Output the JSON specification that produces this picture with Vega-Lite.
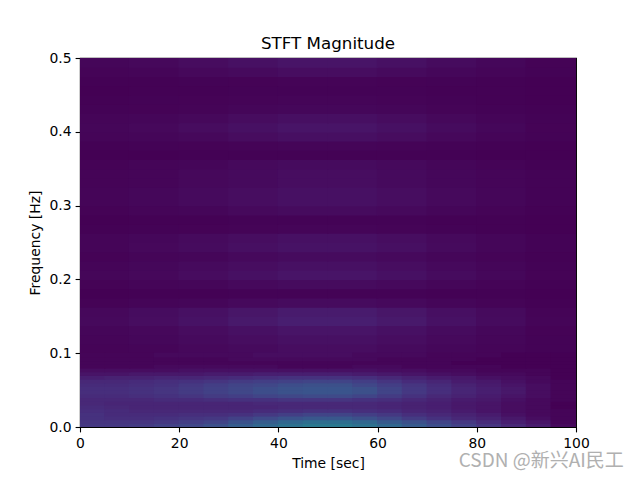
{
"$schema":"https://vega.github.io/schema/vega-lite/v6.json",
"width":496,"height":369,
"autosize":"none",
"padding":{"left":80,"top":58,"right":64,"bottom":53},
"background":"white",
"title":{"text":"STFT Magnitude","font":"DejaVu Sans","fontSize":16.7,"fontWeight":"normal","color":"#000","offset":-2},
"config":{"view":{"stroke":"#000","strokeWidth":1.1,"fill":"#450457"},"font":"DejaVu Sans"},
"datasets":{
"low":[
{"t":2.5,"f":0.0025,"m":0.16},{"t":7.5,"f":0.0025,"m":0.16},{"t":12.5,"f":0.0025,"m":0.17},{"t":17.5,"f":0.0025,"m":0.19},{"t":22.5,"f":0.0025,"m":0.21},{"t":27.5,"f":0.0025,"m":0.24},{"t":32.5,"f":0.0025,"m":0.29},{"t":37.5,"f":0.0025,"m":0.33},{"t":42.5,"f":0.0025,"m":0.37},{"t":47.5,"f":0.0025,"m":0.4},{"t":52.5,"f":0.0025,"m":0.4},{"t":57.5,"f":0.0025,"m":0.37},{"t":62.5,"f":0.0025,"m":0.33},{"t":67.5,"f":0.0025,"m":0.28},{"t":72.5,"f":0.0025,"m":0.23},{"t":77.5,"f":0.0025,"m":0.19},{"t":82.5,"f":0.0025,"m":0.15},{"t":87.5,"f":0.0025,"m":0.11},{"t":92.5,"f":0.0025,"m":0.07},{"t":97.5,"f":0.0025,"m":0.02},
{"t":2.5,"f":0.0075,"m":0.15},{"t":7.5,"f":0.0075,"m":0.15},{"t":12.5,"f":0.0075,"m":0.15},{"t":17.5,"f":0.0075,"m":0.16},{"t":22.5,"f":0.0075,"m":0.18},{"t":27.5,"f":0.0075,"m":0.2},{"t":32.5,"f":0.0075,"m":0.25},{"t":37.5,"f":0.0075,"m":0.29},{"t":42.5,"f":0.0075,"m":0.33},{"t":47.5,"f":0.0075,"m":0.36},{"t":52.5,"f":0.0075,"m":0.36},{"t":57.5,"f":0.0075,"m":0.33},{"t":62.5,"f":0.0075,"m":0.28},{"t":67.5,"f":0.0075,"m":0.24},{"t":72.5,"f":0.0075,"m":0.2},{"t":77.5,"f":0.0075,"m":0.16},{"t":82.5,"f":0.0075,"m":0.12},{"t":87.5,"f":0.0075,"m":0.08},{"t":92.5,"f":0.0075,"m":0.05},{"t":97.5,"f":0.0075,"m":0.01},
{"t":2.5,"f":0.0125,"m":0.14},{"t":7.5,"f":0.0125,"m":0.13},{"t":12.5,"f":0.0125,"m":0.13},{"t":17.5,"f":0.0125,"m":0.14},{"t":22.5,"f":0.0125,"m":0.15},{"t":27.5,"f":0.0125,"m":0.16},{"t":32.5,"f":0.0125,"m":0.19},{"t":37.5,"f":0.0125,"m":0.22},{"t":42.5,"f":0.0125,"m":0.25},{"t":47.5,"f":0.0125,"m":0.27},{"t":52.5,"f":0.0125,"m":0.27},{"t":57.5,"f":0.0125,"m":0.24},{"t":62.5,"f":0.0125,"m":0.21},{"t":67.5,"f":0.0125,"m":0.17},{"t":72.5,"f":0.0125,"m":0.14},{"t":77.5,"f":0.0125,"m":0.11},{"t":82.5,"f":0.0125,"m":0.09},{"t":87.5,"f":0.0125,"m":0.06},{"t":92.5,"f":0.0125,"m":0.03},{"t":97.5,"f":0.0125,"m":0.01},
{"t":2.5,"f":0.0175,"m":0.14},{"t":7.5,"f":0.0175,"m":0.12},{"t":12.5,"f":0.0175,"m":0.12},{"t":17.5,"f":0.0175,"m":0.12},{"t":22.5,"f":0.0175,"m":0.13},{"t":27.5,"f":0.0175,"m":0.13},{"t":32.5,"f":0.0175,"m":0.14},{"t":37.5,"f":0.0175,"m":0.16},{"t":42.5,"f":0.0175,"m":0.18},{"t":47.5,"f":0.0175,"m":0.2},{"t":52.5,"f":0.0175,"m":0.2},{"t":57.5,"f":0.0175,"m":0.18},{"t":62.5,"f":0.0175,"m":0.16},{"t":67.5,"f":0.0175,"m":0.13},{"t":72.5,"f":0.0175,"m":0.11},{"t":77.5,"f":0.0175,"m":0.09},{"t":82.5,"f":0.0175,"m":0.07},{"t":87.5,"f":0.0175,"m":0.04},{"t":92.5,"f":0.0175,"m":0.02},{"t":97.5,"f":0.0175,"m":0.01},
{"t":2.5,"f":0.0225,"m":0.13},{"t":7.5,"f":0.0225,"m":0.12},{"t":12.5,"f":0.0225,"m":0.11},{"t":17.5,"f":0.0225,"m":0.11},{"t":22.5,"f":0.0225,"m":0.11},{"t":27.5,"f":0.0225,"m":0.11},{"t":32.5,"f":0.0225,"m":0.11},{"t":37.5,"f":0.0225,"m":0.12},{"t":42.5,"f":0.0225,"m":0.13},{"t":47.5,"f":0.0225,"m":0.14},{"t":52.5,"f":0.0225,"m":0.14},{"t":57.5,"f":0.0225,"m":0.13},{"t":62.5,"f":0.0225,"m":0.12},{"t":67.5,"f":0.0225,"m":0.1},{"t":72.5,"f":0.0225,"m":0.09},{"t":77.5,"f":0.0225,"m":0.07},{"t":82.5,"f":0.0225,"m":0.05},{"t":87.5,"f":0.0225,"m":0.03},{"t":92.5,"f":0.0225,"m":0.02},{"t":97.5,"f":0.0225,"m":0.01},
{"t":2.5,"f":0.0275,"m":0.12},{"t":7.5,"f":0.0275,"m":0.11},{"t":12.5,"f":0.0275,"m":0.1},{"t":17.5,"f":0.0275,"m":0.1},{"t":22.5,"f":0.0275,"m":0.1},{"t":27.5,"f":0.0275,"m":0.1},{"t":32.5,"f":0.0275,"m":0.1},{"t":37.5,"f":0.0275,"m":0.1},{"t":42.5,"f":0.0275,"m":0.11},{"t":47.5,"f":0.0275,"m":0.11},{"t":52.5,"f":0.0275,"m":0.11},{"t":57.5,"f":0.0275,"m":0.11},{"t":62.5,"f":0.0275,"m":0.1},{"t":67.5,"f":0.0275,"m":0.09},{"t":72.5,"f":0.0275,"m":0.08},{"t":77.5,"f":0.0275,"m":0.06},{"t":82.5,"f":0.0275,"m":0.05},{"t":87.5,"f":0.0275,"m":0.03},{"t":92.5,"f":0.0275,"m":0.02},{"t":97.5,"f":0.0275,"m":0},
{"t":2.5,"f":0.0325,"m":0.11},{"t":7.5,"f":0.0325,"m":0.1},{"t":12.5,"f":0.0325,"m":0.1},{"t":17.5,"f":0.0325,"m":0.1},{"t":22.5,"f":0.0325,"m":0.1},{"t":27.5,"f":0.0325,"m":0.1},{"t":32.5,"f":0.0325,"m":0.1},{"t":37.5,"f":0.0325,"m":0.11},{"t":42.5,"f":0.0325,"m":0.11},{"t":47.5,"f":0.0325,"m":0.11},{"t":52.5,"f":0.0325,"m":0.11},{"t":57.5,"f":0.0325,"m":0.11},{"t":62.5,"f":0.0325,"m":0.1},{"t":67.5,"f":0.0325,"m":0.09},{"t":72.5,"f":0.0325,"m":0.08},{"t":77.5,"f":0.0325,"m":0.06},{"t":82.5,"f":0.0325,"m":0.05},{"t":87.5,"f":0.0325,"m":0.03},{"t":92.5,"f":0.0325,"m":0.02},{"t":97.5,"f":0.0325,"m":0},
{"t":2.5,"f":0.0375,"m":0.11},{"t":7.5,"f":0.0375,"m":0.11},{"t":12.5,"f":0.0375,"m":0.11},{"t":17.5,"f":0.0375,"m":0.12},{"t":22.5,"f":0.0375,"m":0.12},{"t":27.5,"f":0.0375,"m":0.13},{"t":32.5,"f":0.0375,"m":0.14},{"t":37.5,"f":0.0375,"m":0.14},{"t":42.5,"f":0.0375,"m":0.15},{"t":47.5,"f":0.0375,"m":0.15},{"t":52.5,"f":0.0375,"m":0.15},{"t":57.5,"f":0.0375,"m":0.14},{"t":62.5,"f":0.0375,"m":0.13},{"t":67.5,"f":0.0375,"m":0.11},{"t":72.5,"f":0.0375,"m":0.09},{"t":77.5,"f":0.0375,"m":0.07},{"t":82.5,"f":0.0375,"m":0.06},{"t":87.5,"f":0.0375,"m":0.04},{"t":92.5,"f":0.0375,"m":0.02},{"t":97.5,"f":0.0375,"m":0.01},
{"t":2.5,"f":0.0425,"m":0.12},{"t":7.5,"f":0.0425,"m":0.12},{"t":12.5,"f":0.0425,"m":0.13},{"t":17.5,"f":0.0425,"m":0.14},{"t":22.5,"f":0.0425,"m":0.15},{"t":27.5,"f":0.0425,"m":0.17},{"t":32.5,"f":0.0425,"m":0.18},{"t":37.5,"f":0.0425,"m":0.2},{"t":42.5,"f":0.0425,"m":0.21},{"t":47.5,"f":0.0425,"m":0.22},{"t":52.5,"f":0.0425,"m":0.22},{"t":57.5,"f":0.0425,"m":0.2},{"t":62.5,"f":0.0425,"m":0.17},{"t":67.5,"f":0.0425,"m":0.14},{"t":72.5,"f":0.0425,"m":0.11},{"t":77.5,"f":0.0425,"m":0.09},{"t":82.5,"f":0.0425,"m":0.07},{"t":87.5,"f":0.0425,"m":0.05},{"t":92.5,"f":0.0425,"m":0.03},{"t":97.5,"f":0.0425,"m":0.01},
{"t":2.5,"f":0.0475,"m":0.13},{"t":7.5,"f":0.0475,"m":0.13},{"t":12.5,"f":0.0475,"m":0.14},{"t":17.5,"f":0.0475,"m":0.15},{"t":22.5,"f":0.0475,"m":0.17},{"t":27.5,"f":0.0475,"m":0.19},{"t":32.5,"f":0.0475,"m":0.21},{"t":37.5,"f":0.0475,"m":0.23},{"t":42.5,"f":0.0475,"m":0.25},{"t":47.5,"f":0.0475,"m":0.26},{"t":52.5,"f":0.0475,"m":0.26},{"t":57.5,"f":0.0475,"m":0.24},{"t":62.5,"f":0.0475,"m":0.2},{"t":67.5,"f":0.0475,"m":0.16},{"t":72.5,"f":0.0475,"m":0.13},{"t":77.5,"f":0.0475,"m":0.1},{"t":82.5,"f":0.0475,"m":0.08},{"t":87.5,"f":0.0475,"m":0.06},{"t":92.5,"f":0.0475,"m":0.03},{"t":97.5,"f":0.0475,"m":0.01},
{"t":2.5,"f":0.0525,"m":0.13},{"t":7.5,"f":0.0525,"m":0.13},{"t":12.5,"f":0.0525,"m":0.14},{"t":17.5,"f":0.0525,"m":0.15},{"t":22.5,"f":0.0525,"m":0.17},{"t":27.5,"f":0.0525,"m":0.19},{"t":32.5,"f":0.0525,"m":0.21},{"t":37.5,"f":0.0525,"m":0.23},{"t":42.5,"f":0.0525,"m":0.25},{"t":47.5,"f":0.0525,"m":0.26},{"t":52.5,"f":0.0525,"m":0.26},{"t":57.5,"f":0.0525,"m":0.24},{"t":62.5,"f":0.0525,"m":0.2},{"t":67.5,"f":0.0525,"m":0.16},{"t":72.5,"f":0.0525,"m":0.13},{"t":77.5,"f":0.0525,"m":0.1},{"t":82.5,"f":0.0525,"m":0.08},{"t":87.5,"f":0.0525,"m":0.06},{"t":92.5,"f":0.0525,"m":0.03},{"t":97.5,"f":0.0525,"m":0.01},
{"t":2.5,"f":0.0575,"m":0.12},{"t":7.5,"f":0.0575,"m":0.12},{"t":12.5,"f":0.0575,"m":0.13},{"t":17.5,"f":0.0575,"m":0.14},{"t":22.5,"f":0.0575,"m":0.16},{"t":27.5,"f":0.0575,"m":0.18},{"t":32.5,"f":0.0575,"m":0.2},{"t":37.5,"f":0.0575,"m":0.21},{"t":42.5,"f":0.0575,"m":0.23},{"t":47.5,"f":0.0575,"m":0.24},{"t":52.5,"f":0.0575,"m":0.24},{"t":57.5,"f":0.0575,"m":0.21},{"t":62.5,"f":0.0575,"m":0.18},{"t":67.5,"f":0.0575,"m":0.15},{"t":72.5,"f":0.0575,"m":0.12},{"t":77.5,"f":0.0575,"m":0.09},{"t":82.5,"f":0.0575,"m":0.07},{"t":87.5,"f":0.0575,"m":0.05},{"t":92.5,"f":0.0575,"m":0.03},{"t":97.5,"f":0.0575,"m":0.01},
{"t":2.5,"f":0.0625,"m":0.11},{"t":7.5,"f":0.0625,"m":0.11},{"t":12.5,"f":0.0625,"m":0.12},{"t":17.5,"f":0.0625,"m":0.13},{"t":22.5,"f":0.0625,"m":0.14},{"t":27.5,"f":0.0625,"m":0.15},{"t":32.5,"f":0.0625,"m":0.17},{"t":37.5,"f":0.0625,"m":0.18},{"t":42.5,"f":0.0625,"m":0.19},{"t":47.5,"f":0.0625,"m":0.2},{"t":52.5,"f":0.0625,"m":0.2},{"t":57.5,"f":0.0625,"m":0.18},{"t":62.5,"f":0.0625,"m":0.15},{"t":67.5,"f":0.0625,"m":0.12},{"t":72.5,"f":0.0625,"m":0.1},{"t":77.5,"f":0.0625,"m":0.07},{"t":82.5,"f":0.0625,"m":0.06},{"t":87.5,"f":0.0625,"m":0.04},{"t":92.5,"f":0.0625,"m":0.02},{"t":97.5,"f":0.0625,"m":0.01},
{"t":2.5,"f":0.0675,"m":0.08},{"t":7.5,"f":0.0675,"m":0.09},{"t":12.5,"f":0.0675,"m":0.09},{"t":17.5,"f":0.0675,"m":0.1},{"t":22.5,"f":0.0675,"m":0.1},{"t":27.5,"f":0.0675,"m":0.11},{"t":32.5,"f":0.0675,"m":0.12},{"t":37.5,"f":0.0675,"m":0.13},{"t":42.5,"f":0.0675,"m":0.14},{"t":47.5,"f":0.0675,"m":0.14},{"t":52.5,"f":0.0675,"m":0.14},{"t":57.5,"f":0.0675,"m":0.13},{"t":62.5,"f":0.0675,"m":0.11},{"t":67.5,"f":0.0675,"m":0.09},{"t":72.5,"f":0.0675,"m":0.07},{"t":77.5,"f":0.0675,"m":0.06},{"t":82.5,"f":0.0675,"m":0.04},{"t":87.5,"f":0.0675,"m":0.03},{"t":92.5,"f":0.0675,"m":0.02},{"t":97.5,"f":0.0675,"m":0},
{"t":2.5,"f":0.0725,"m":0.05},{"t":7.5,"f":0.0725,"m":0.05},{"t":12.5,"f":0.0725,"m":0.06},{"t":17.5,"f":0.0725,"m":0.06},{"t":22.5,"f":0.0725,"m":0.06},{"t":27.5,"f":0.0725,"m":0.07},{"t":32.5,"f":0.0725,"m":0.07},{"t":37.5,"f":0.0725,"m":0.08},{"t":42.5,"f":0.0725,"m":0.08},{"t":47.5,"f":0.0725,"m":0.08},{"t":52.5,"f":0.0725,"m":0.08},{"t":57.5,"f":0.0725,"m":0.07},{"t":62.5,"f":0.0725,"m":0.06},{"t":67.5,"f":0.0725,"m":0.05},{"t":72.5,"f":0.0725,"m":0.04},{"t":77.5,"f":0.0725,"m":0.03},{"t":82.5,"f":0.0725,"m":0.02},{"t":87.5,"f":0.0725,"m":0.02},{"t":92.5,"f":0.0725,"m":0.01},{"t":97.5,"f":0.0725,"m":0},
{"t":2.5,"f":0.0775,"m":0.03},{"t":7.5,"f":0.0775,"m":0.03},{"t":12.5,"f":0.0775,"m":0.03},{"t":17.5,"f":0.0775,"m":0.03},{"t":22.5,"f":0.0775,"m":0.04},{"t":27.5,"f":0.0775,"m":0.04},{"t":32.5,"f":0.0775,"m":0.04},{"t":37.5,"f":0.0775,"m":0.04},{"t":42.5,"f":0.0775,"m":0.04},{"t":47.5,"f":0.0775,"m":0.04},{"t":52.5,"f":0.0775,"m":0.04},{"t":57.5,"f":0.0775,"m":0.04},{"t":62.5,"f":0.0775,"m":0.03},{"t":67.5,"f":0.0775,"m":0.03},{"t":72.5,"f":0.0775,"m":0.02},{"t":77.5,"f":0.0775,"m":0.02},{"t":82.5,"f":0.0775,"m":0.01},{"t":87.5,"f":0.0775,"m":0.01},{"t":92.5,"f":0.0775,"m":0.01},{"t":97.5,"f":0.0775,"m":0},
{"t":2.5,"f":0.0825,"m":0.01},{"t":7.5,"f":0.0825,"m":0.01},{"t":12.5,"f":0.0825,"m":0.01},{"t":17.5,"f":0.0825,"m":0.02},{"t":22.5,"f":0.0825,"m":0.02},{"t":27.5,"f":0.0825,"m":0.02},{"t":32.5,"f":0.0825,"m":0.02},{"t":37.5,"f":0.0825,"m":0.02},{"t":42.5,"f":0.0825,"m":0.01},{"t":47.5,"f":0.0825,"m":0.01},{"t":52.5,"f":0.0825,"m":0.01},{"t":57.5,"f":0.0825,"m":0.02},{"t":62.5,"f":0.0825,"m":0.02},{"t":67.5,"f":0.0825,"m":0.01},{"t":72.5,"f":0.0825,"m":0.01},{"t":77.5,"f":0.0825,"m":0.01},{"t":82.5,"f":0.0825,"m":0.01},{"t":87.5,"f":0.0825,"m":0},{"t":92.5,"f":0.0825,"m":0},{"t":97.5,"f":0.0825,"m":0},
{"t":2.5,"f":0.0875,"m":0.01},{"t":7.5,"f":0.0875,"m":0.01},{"t":12.5,"f":0.0875,"m":0.01},{"t":17.5,"f":0.0875,"m":0.01},{"t":22.5,"f":0.0875,"m":0.01},{"t":27.5,"f":0.0875,"m":0.01},{"t":32.5,"f":0.0875,"m":0.01},{"t":37.5,"f":0.0875,"m":0.01},{"t":42.5,"f":0.0875,"m":0.01},{"t":47.5,"f":0.0875,"m":0.01},{"t":52.5,"f":0.0875,"m":0.01},{"t":57.5,"f":0.0875,"m":0.01},{"t":62.5,"f":0.0875,"m":0.01},{"t":67.5,"f":0.0875,"m":0.01},{"t":72.5,"f":0.0875,"m":0.01},{"t":77.5,"f":0.0875,"m":0},{"t":82.5,"f":0.0875,"m":0},{"t":87.5,"f":0.0875,"m":0},{"t":92.5,"f":0.0875,"m":0},{"t":97.5,"f":0.0875,"m":0},
{"t":2.5,"f":0.0925,"m":0.01},{"t":7.5,"f":0.0925,"m":0.01},{"t":12.5,"f":0.0925,"m":0.01},{"t":17.5,"f":0.0925,"m":0.01},{"t":22.5,"f":0.0925,"m":0.01},{"t":27.5,"f":0.0925,"m":0.01},{"t":32.5,"f":0.0925,"m":0.02},{"t":37.5,"f":0.0925,"m":0.02},{"t":42.5,"f":0.0925,"m":0.02},{"t":47.5,"f":0.0925,"m":0.02},{"t":52.5,"f":0.0925,"m":0.02},{"t":57.5,"f":0.0925,"m":0.02},{"t":62.5,"f":0.0925,"m":0.01},{"t":67.5,"f":0.0925,"m":0.01},{"t":72.5,"f":0.0925,"m":0.01},{"t":77.5,"f":0.0925,"m":0.01},{"t":82.5,"f":0.0925,"m":0},{"t":87.5,"f":0.0925,"m":0},{"t":92.5,"f":0.0925,"m":0},{"t":97.5,"f":0.0925,"m":0},
{"t":2.5,"f":0.0975,"m":0.01},{"t":7.5,"f":0.0975,"m":0.01},{"t":12.5,"f":0.0975,"m":0.01},{"t":17.5,"f":0.0975,"m":0.02},{"t":22.5,"f":0.0975,"m":0.02},{"t":27.5,"f":0.0975,"m":0.02},{"t":32.5,"f":0.0975,"m":0.02},{"t":37.5,"f":0.0975,"m":0.03},{"t":42.5,"f":0.0975,"m":0.03},{"t":47.5,"f":0.0975,"m":0.03},{"t":52.5,"f":0.0975,"m":0.03},{"t":57.5,"f":0.0975,"m":0.02},{"t":62.5,"f":0.0975,"m":0.02},{"t":67.5,"f":0.0975,"m":0.02},{"t":72.5,"f":0.0975,"m":0.01},{"t":77.5,"f":0.0975,"m":0.01},{"t":82.5,"f":0.0975,"m":0.01},{"t":87.5,"f":0.0975,"m":0},{"t":92.5,"f":0.0975,"m":0},{"t":97.5,"f":0.0975,"m":0}
],
"high":[
{"t":5,"f":0.10625,"m":0.008},{"t":15,"f":0.10625,"m":0.011},{"t":25,"f":0.10625,"m":0.017},{"t":35,"f":0.10625,"m":0.024},{"t":45,"f":0.10625,"m":0.03},{"t":55,"f":0.10625,"m":0.03},{"t":65,"f":0.10625,"m":0.024},{"t":75,"f":0.10625,"m":0.016},{"t":85,"f":0.10625,"m":0.01},{"t":95,"f":0.10625,"m":0.004},
{"t":5,"f":0.11875,"m":0.01},{"t":15,"f":0.11875,"m":0.015},{"t":25,"f":0.11875,"m":0.022},{"t":35,"f":0.11875,"m":0.032},{"t":45,"f":0.11875,"m":0.04},{"t":55,"f":0.11875,"m":0.04},{"t":65,"f":0.11875,"m":0.032},{"t":75,"f":0.11875,"m":0.021},{"t":85,"f":0.11875,"m":0.013},{"t":95,"f":0.11875,"m":0.005},
{"t":5,"f":0.13125,"m":0.013},{"t":15,"f":0.13125,"m":0.019},{"t":25,"f":0.13125,"m":0.028},{"t":35,"f":0.13125,"m":0.04},{"t":45,"f":0.13125,"m":0.05},{"t":55,"f":0.13125,"m":0.05},{"t":65,"f":0.13125,"m":0.04},{"t":75,"f":0.13125,"m":0.026},{"t":85,"f":0.13125,"m":0.016},{"t":95,"f":0.13125,"m":0.006},
{"t":5,"f":0.14375,"m":0.02},{"t":15,"f":0.14375,"m":0.03},{"t":25,"f":0.14375,"m":0.044},{"t":35,"f":0.14375,"m":0.064},{"t":45,"f":0.14375,"m":0.08},{"t":55,"f":0.14375,"m":0.08},{"t":65,"f":0.14375,"m":0.064},{"t":75,"f":0.14375,"m":0.042},{"t":85,"f":0.14375,"m":0.026},{"t":95,"f":0.14375,"m":0.01},
{"t":5,"f":0.15625,"m":0.018},{"t":15,"f":0.15625,"m":0.027},{"t":25,"f":0.15625,"m":0.039},{"t":35,"f":0.15625,"m":0.056},{"t":45,"f":0.15625,"m":0.07},{"t":55,"f":0.15625,"m":0.07},{"t":65,"f":0.15625,"m":0.056},{"t":75,"f":0.15625,"m":0.036},{"t":85,"f":0.15625,"m":0.022},{"t":95,"f":0.15625,"m":0.008},
{"t":5,"f":0.16875,"m":0.006},{"t":15,"f":0.16875,"m":0.01},{"t":25,"f":0.16875,"m":0.014},{"t":35,"f":0.16875,"m":0.02},{"t":45,"f":0.16875,"m":0.025},{"t":55,"f":0.16875,"m":0.025},{"t":65,"f":0.16875,"m":0.02},{"t":75,"f":0.16875,"m":0.013},{"t":85,"f":0.16875,"m":0.008},{"t":95,"f":0.16875,"m":0.003},
{"t":5,"f":0.18125,"m":0.001},{"t":15,"f":0.18125,"m":0.002},{"t":25,"f":0.18125,"m":0.003},{"t":35,"f":0.18125,"m":0.004},{"t":45,"f":0.18125,"m":0.005},{"t":55,"f":0.18125,"m":0.005},{"t":65,"f":0.18125,"m":0.004},{"t":75,"f":0.18125,"m":0.003},{"t":85,"f":0.18125,"m":0.002},{"t":95,"f":0.18125,"m":0.001},
{"t":5,"f":0.19375,"m":0.006},{"t":15,"f":0.19375,"m":0.01},{"t":25,"f":0.19375,"m":0.014},{"t":35,"f":0.19375,"m":0.02},{"t":45,"f":0.19375,"m":0.025},{"t":55,"f":0.19375,"m":0.025},{"t":65,"f":0.19375,"m":0.02},{"t":75,"f":0.19375,"m":0.013},{"t":85,"f":0.19375,"m":0.008},{"t":95,"f":0.19375,"m":0.003},
{"t":5,"f":0.20625,"m":0.013},{"t":15,"f":0.20625,"m":0.019},{"t":25,"f":0.20625,"m":0.028},{"t":35,"f":0.20625,"m":0.04},{"t":45,"f":0.20625,"m":0.05},{"t":55,"f":0.20625,"m":0.05},{"t":65,"f":0.20625,"m":0.04},{"t":75,"f":0.20625,"m":0.026},{"t":85,"f":0.20625,"m":0.016},{"t":95,"f":0.20625,"m":0.006},
{"t":5,"f":0.21875,"m":0.01},{"t":15,"f":0.21875,"m":0.015},{"t":25,"f":0.21875,"m":0.022},{"t":35,"f":0.21875,"m":0.032},{"t":45,"f":0.21875,"m":0.04},{"t":55,"f":0.21875,"m":0.04},{"t":65,"f":0.21875,"m":0.032},{"t":75,"f":0.21875,"m":0.021},{"t":85,"f":0.21875,"m":0.013},{"t":95,"f":0.21875,"m":0.005},
{"t":5,"f":0.23125,"m":0.006},{"t":15,"f":0.23125,"m":0.01},{"t":25,"f":0.23125,"m":0.014},{"t":35,"f":0.23125,"m":0.02},{"t":45,"f":0.23125,"m":0.025},{"t":55,"f":0.23125,"m":0.025},{"t":65,"f":0.23125,"m":0.02},{"t":75,"f":0.23125,"m":0.013},{"t":85,"f":0.23125,"m":0.008},{"t":95,"f":0.23125,"m":0.003},
{"t":5,"f":0.24375,"m":0.011},{"t":15,"f":0.24375,"m":0.017},{"t":25,"f":0.24375,"m":0.025},{"t":35,"f":0.24375,"m":0.036},{"t":45,"f":0.24375,"m":0.045},{"t":55,"f":0.24375,"m":0.045},{"t":65,"f":0.24375,"m":0.036},{"t":75,"f":0.24375,"m":0.023},{"t":85,"f":0.24375,"m":0.014},{"t":95,"f":0.24375,"m":0.005},
{"t":5,"f":0.25625,"m":0.01},{"t":15,"f":0.25625,"m":0.015},{"t":25,"f":0.25625,"m":0.022},{"t":35,"f":0.25625,"m":0.032},{"t":45,"f":0.25625,"m":0.04},{"t":55,"f":0.25625,"m":0.04},{"t":65,"f":0.25625,"m":0.032},{"t":75,"f":0.25625,"m":0.021},{"t":85,"f":0.25625,"m":0.013},{"t":95,"f":0.25625,"m":0.005},
{"t":5,"f":0.26875,"m":0.003},{"t":15,"f":0.26875,"m":0.004},{"t":25,"f":0.26875,"m":0.006},{"t":35,"f":0.26875,"m":0.008},{"t":45,"f":0.26875,"m":0.01},{"t":55,"f":0.26875,"m":0.01},{"t":65,"f":0.26875,"m":0.008},{"t":75,"f":0.26875,"m":0.005},{"t":85,"f":0.26875,"m":0.003},{"t":95,"f":0.26875,"m":0.001},
{"t":5,"f":0.28125,"m":0.001},{"t":15,"f":0.28125,"m":0.002},{"t":25,"f":0.28125,"m":0.003},{"t":35,"f":0.28125,"m":0.004},{"t":45,"f":0.28125,"m":0.005},{"t":55,"f":0.28125,"m":0.005},{"t":65,"f":0.28125,"m":0.004},{"t":75,"f":0.28125,"m":0.003},{"t":85,"f":0.28125,"m":0.002},{"t":95,"f":0.28125,"m":0.001},
{"t":5,"f":0.29375,"m":0.006},{"t":15,"f":0.29375,"m":0.01},{"t":25,"f":0.29375,"m":0.014},{"t":35,"f":0.29375,"m":0.02},{"t":45,"f":0.29375,"m":0.025},{"t":55,"f":0.29375,"m":0.025},{"t":65,"f":0.29375,"m":0.02},{"t":75,"f":0.29375,"m":0.013},{"t":85,"f":0.29375,"m":0.008},{"t":95,"f":0.29375,"m":0.003},
{"t":5,"f":0.30625,"m":0.01},{"t":15,"f":0.30625,"m":0.015},{"t":25,"f":0.30625,"m":0.022},{"t":35,"f":0.30625,"m":0.032},{"t":45,"f":0.30625,"m":0.04},{"t":55,"f":0.30625,"m":0.04},{"t":65,"f":0.30625,"m":0.032},{"t":75,"f":0.30625,"m":0.021},{"t":85,"f":0.30625,"m":0.013},{"t":95,"f":0.30625,"m":0.005},
{"t":5,"f":0.31875,"m":0.01},{"t":15,"f":0.31875,"m":0.015},{"t":25,"f":0.31875,"m":0.022},{"t":35,"f":0.31875,"m":0.032},{"t":45,"f":0.31875,"m":0.04},{"t":55,"f":0.31875,"m":0.04},{"t":65,"f":0.31875,"m":0.032},{"t":75,"f":0.31875,"m":0.021},{"t":85,"f":0.31875,"m":0.013},{"t":95,"f":0.31875,"m":0.005},
{"t":5,"f":0.33125,"m":0.008},{"t":15,"f":0.33125,"m":0.011},{"t":25,"f":0.33125,"m":0.017},{"t":35,"f":0.33125,"m":0.024},{"t":45,"f":0.33125,"m":0.03},{"t":55,"f":0.33125,"m":0.03},{"t":65,"f":0.33125,"m":0.024},{"t":75,"f":0.33125,"m":0.016},{"t":85,"f":0.33125,"m":0.01},{"t":95,"f":0.33125,"m":0.004},
{"t":5,"f":0.34375,"m":0.008},{"t":15,"f":0.34375,"m":0.011},{"t":25,"f":0.34375,"m":0.017},{"t":35,"f":0.34375,"m":0.024},{"t":45,"f":0.34375,"m":0.03},{"t":55,"f":0.34375,"m":0.03},{"t":65,"f":0.34375,"m":0.024},{"t":75,"f":0.34375,"m":0.016},{"t":85,"f":0.34375,"m":0.01},{"t":95,"f":0.34375,"m":0.004},
{"t":5,"f":0.35625,"m":0.006},{"t":15,"f":0.35625,"m":0.01},{"t":25,"f":0.35625,"m":0.014},{"t":35,"f":0.35625,"m":0.02},{"t":45,"f":0.35625,"m":0.025},{"t":55,"f":0.35625,"m":0.025},{"t":65,"f":0.35625,"m":0.02},{"t":75,"f":0.35625,"m":0.013},{"t":85,"f":0.35625,"m":0.008},{"t":95,"f":0.35625,"m":0.003},
{"t":5,"f":0.36875,"m":0.001},{"t":15,"f":0.36875,"m":0.001},{"t":25,"f":0.36875,"m":0.002},{"t":35,"f":0.36875,"m":0.002},{"t":45,"f":0.36875,"m":0.003},{"t":55,"f":0.36875,"m":0.003},{"t":65,"f":0.36875,"m":0.002},{"t":75,"f":0.36875,"m":0.002},{"t":85,"f":0.36875,"m":0.001},{"t":95,"f":0.36875,"m":0},
{"t":5,"f":0.38125,"m":0.003},{"t":15,"f":0.38125,"m":0.004},{"t":25,"f":0.38125,"m":0.006},{"t":35,"f":0.38125,"m":0.008},{"t":45,"f":0.38125,"m":0.01},{"t":55,"f":0.38125,"m":0.01},{"t":65,"f":0.38125,"m":0.008},{"t":75,"f":0.38125,"m":0.005},{"t":85,"f":0.38125,"m":0.003},{"t":95,"f":0.38125,"m":0.001},
{"t":5,"f":0.39375,"m":0.009},{"t":15,"f":0.39375,"m":0.013},{"t":25,"f":0.39375,"m":0.019},{"t":35,"f":0.39375,"m":0.028},{"t":45,"f":0.39375,"m":0.035},{"t":55,"f":0.39375,"m":0.035},{"t":65,"f":0.39375,"m":0.028},{"t":75,"f":0.39375,"m":0.018},{"t":85,"f":0.39375,"m":0.011},{"t":95,"f":0.39375,"m":0.004},
{"t":5,"f":0.40625,"m":0.013},{"t":15,"f":0.40625,"m":0.019},{"t":25,"f":0.40625,"m":0.028},{"t":35,"f":0.40625,"m":0.04},{"t":45,"f":0.40625,"m":0.05},{"t":55,"f":0.40625,"m":0.05},{"t":65,"f":0.40625,"m":0.04},{"t":75,"f":0.40625,"m":0.026},{"t":85,"f":0.40625,"m":0.016},{"t":95,"f":0.40625,"m":0.006},
{"t":5,"f":0.41875,"m":0.009},{"t":15,"f":0.41875,"m":0.013},{"t":25,"f":0.41875,"m":0.019},{"t":35,"f":0.41875,"m":0.028},{"t":45,"f":0.41875,"m":0.035},{"t":55,"f":0.41875,"m":0.035},{"t":65,"f":0.41875,"m":0.028},{"t":75,"f":0.41875,"m":0.018},{"t":85,"f":0.41875,"m":0.011},{"t":95,"f":0.41875,"m":0.004},
{"t":5,"f":0.43125,"m":0.004},{"t":15,"f":0.43125,"m":0.006},{"t":25,"f":0.43125,"m":0.008},{"t":35,"f":0.43125,"m":0.012},{"t":45,"f":0.43125,"m":0.015},{"t":55,"f":0.43125,"m":0.015},{"t":65,"f":0.43125,"m":0.012},{"t":75,"f":0.43125,"m":0.008},{"t":85,"f":0.43125,"m":0.005},{"t":95,"f":0.43125,"m":0.002},
{"t":5,"f":0.44375,"m":0.003},{"t":15,"f":0.44375,"m":0.004},{"t":25,"f":0.44375,"m":0.006},{"t":35,"f":0.44375,"m":0.008},{"t":45,"f":0.44375,"m":0.01},{"t":55,"f":0.44375,"m":0.01},{"t":65,"f":0.44375,"m":0.008},{"t":75,"f":0.44375,"m":0.005},{"t":85,"f":0.44375,"m":0.003},{"t":95,"f":0.44375,"m":0.001},
{"t":5,"f":0.45625,"m":0.001},{"t":15,"f":0.45625,"m":0.002},{"t":25,"f":0.45625,"m":0.003},{"t":35,"f":0.45625,"m":0.004},{"t":45,"f":0.45625,"m":0.005},{"t":55,"f":0.45625,"m":0.005},{"t":65,"f":0.45625,"m":0.004},{"t":75,"f":0.45625,"m":0.003},{"t":85,"f":0.45625,"m":0.002},{"t":95,"f":0.45625,"m":0.001},
{"t":5,"f":0.46875,"m":0.002},{"t":15,"f":0.46875,"m":0.003},{"t":25,"f":0.46875,"m":0.004},{"t":35,"f":0.46875,"m":0.006},{"t":45,"f":0.46875,"m":0.008},{"t":55,"f":0.46875,"m":0.008},{"t":65,"f":0.46875,"m":0.006},{"t":75,"f":0.46875,"m":0.004},{"t":85,"f":0.46875,"m":0.003},{"t":95,"f":0.46875,"m":0.001},
{"t":5,"f":0.48125,"m":0.008},{"t":15,"f":0.48125,"m":0.011},{"t":25,"f":0.48125,"m":0.017},{"t":35,"f":0.48125,"m":0.024},{"t":45,"f":0.48125,"m":0.03},{"t":55,"f":0.48125,"m":0.03},{"t":65,"f":0.48125,"m":0.024},{"t":75,"f":0.48125,"m":0.016},{"t":85,"f":0.48125,"m":0.01},{"t":95,"f":0.48125,"m":0.004},
{"t":5,"f":0.49375,"m":0.013},{"t":15,"f":0.49375,"m":0.019},{"t":25,"f":0.49375,"m":0.028},{"t":35,"f":0.49375,"m":0.04},{"t":45,"f":0.49375,"m":0.05},{"t":55,"f":0.49375,"m":0.05},{"t":65,"f":0.49375,"m":0.04},{"t":75,"f":0.49375,"m":0.026},{"t":85,"f":0.49375,"m":0.016},{"t":95,"f":0.49375,"m":0.006}
],
"wm":[{"t":93,"f":-0.0455,"label":"CSDN @新兴AI民工"}]
},
"encoding":{
  "x":{"field":"t","type":"quantitative","scale":{"domain":[0,100],"nice":false},
    "axis":{"title":"Time [sec]","values":[0,20,40,60,80,100],"format":"d","grid":false,"labelFlush":false,"labelOverlap":false,"tickColor":"#000","tickSize":4.9,"tickWidth":1.1,"domainColor":"#000","domainWidth":1.1,"labelColor":"#000","labelFontSize":13.9,"labelFont":"DejaVu Sans","labelPadding":5,"titleColor":"#000","titleFontSize":13.9,"titleFont":"DejaVu Sans","titleFontWeight":"normal","titlePadding":6}},
  "y":{"field":"f","type":"quantitative","scale":{"domain":[0,0.5],"nice":false},
    "axis":{"title":"Frequency [Hz]","values":[0,0.1,0.2,0.3,0.4,0.5],"format":".1f","grid":false,"labelFlush":false,"labelOverlap":false,"tickColor":"#000","tickSize":4.9,"tickWidth":1.1,"domainColor":"#000","domainWidth":1.1,"labelColor":"#000","labelFontSize":13.9,"labelFont":"DejaVu Sans","labelPadding":4,"titleColor":"#000","titleFontSize":13.9,"titleFont":"DejaVu Sans","titleFontWeight":"normal","titlePadding":7}}
},
"layer":[
  {"data":{"name":"high"},"mark":{"type":"rect","width":51,"height":10.4,"clip":true},
   "encoding":{"color":{"field":"m","type":"quantitative","scale":{"scheme":"viridis","domain":[0,1]},"legend":null}}},
  {"data":{"name":"low"},"mark":{"type":"rect","width":26,"height":4.9,"clip":true},
   "encoding":{"color":{"field":"m","type":"quantitative","scale":{"scheme":"viridis","domain":[0,1]},"legend":null}}},
  {"data":{"name":"wm"},"mark":{"type":"text","font":"Noto Sans CJK SC","fontSize":19,"color":"#a8a8a8","opacity":0.9,"align":"center","baseline":"middle","clip":false},
   "encoding":{"text":{"field":"label"}}}
]
}
